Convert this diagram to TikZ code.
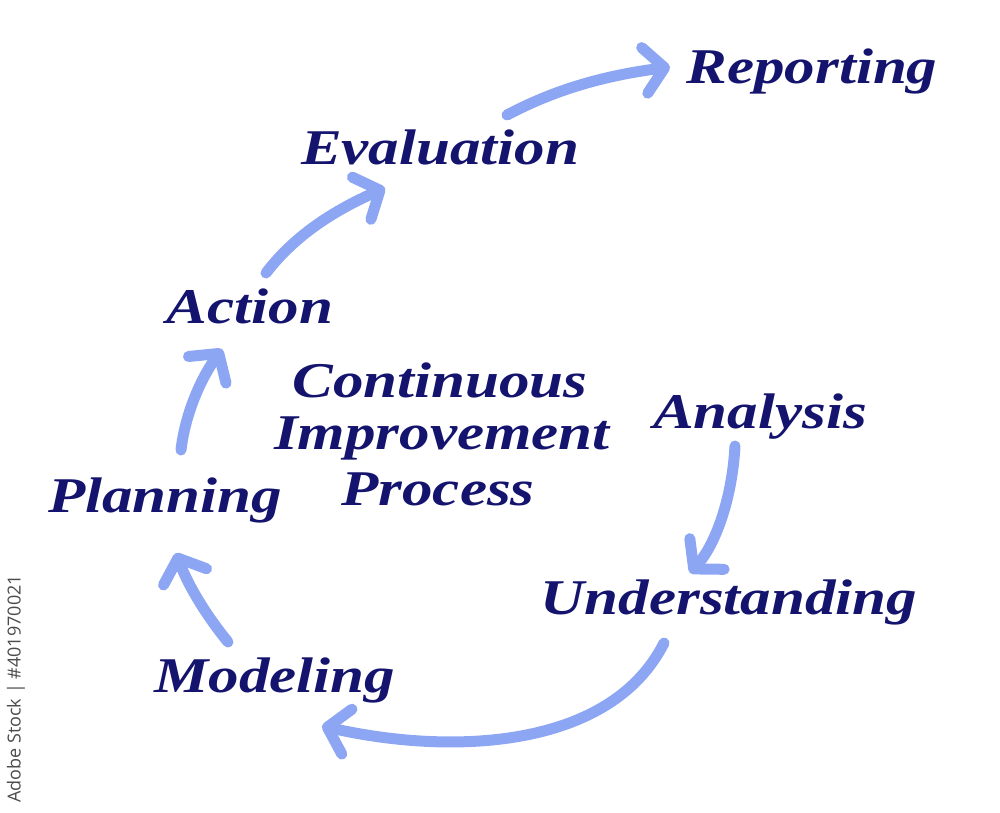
\documentclass[tikz,border=0pt]{standalone}
\usepackage{fontspec}
\setmainfont{Liberation Serif}
\newfontfamily\wmfont{Open Sans}
\usetikzlibrary{arrows.meta}
\definecolor{navy}{HTML}{14146E}
\definecolor{arrowblue}{HTML}{8DA6F4}
\newcommand{\wide}[1]{\scalebox{1.22}[1]{#1}}
\tikzset{
  lbl/.style={text=navy, font=\fontsize{50}{54}\selectfont\bfseries\itshape, inner sep=0pt, anchor=base},
  flow/.style={draw=arrowblue, line width=11pt, line cap=round,
    -{Straight Barb[length=20pt,width=46pt,round]}}
}
\begin{document}
\begin{tikzpicture}[x=1pt,y=-1pt]
\useasboundingbox (0,0) rectangle (1000,812);
\fill[white] (0,0) rectangle (1000,812);
\node[lbl] (rep) at (812,83) {\wide{Reporting}};
\node[lbl] (eva) at (440,164) {\wide{Evaluation}};
\node[lbl] (act) at (250,323) {\wide{Action}};
\node[lbl] (cip1) at (440,397) {\wide{Continuous}};
\node[lbl] (cip2) at (442,449) {\wide{Improvement}};
\node[lbl] (cip3) at (438,505) {\wide{Process}};
\node[lbl] (ana) at (760,428) {\wide{Analysis}};
\node[lbl] (pla) at (165,512) {\wide{Planning}};
\node[lbl] (und) at (729,614) {\wide{Understanding}};
\node[lbl] (mod) at (275,692) {\wide{Modeling}};
\node[text=black!70, font=\wmfont\fontsize{18}{18}\selectfont, rotate=90, inner sep=0pt] (wm) at (16,689) {Adobe Stock | \#401970021};
\coordinate (a1s) at (507,115); \coordinate (a1e) at (670,67);
\coordinate (a2s) at (266,273); \coordinate (a2e) at (385,188);
\coordinate (a3s) at (181,450); \coordinate (a3e) at (222,349);
\coordinate (a4s) at (228,642); \coordinate (a4e) at (176,553);
\coordinate (a5s) at (664,643); \coordinate (a5e) at (322,726);
\coordinate (a6s) at (735,446); \coordinate (a6e) at (690,573);
\draw[flow] (a1s) .. controls (560,87) and (610,75) .. (a1e);
\draw[flow] (a2s) .. controls (295,235) and (335,210) .. (a2e);
\draw[flow] (a3s) .. controls (185,415) and (200,380) .. (a3e);
\draw[flow] (a4s) .. controls (210,620) and (190,590) .. (a4e);
\draw[flow] (a5s) .. controls (610,750) and (450,755) .. (a5e);
\draw[flow] (a6s) .. controls (732,500) and (715,545) .. (a6e);
\end{tikzpicture}
\end{document}
